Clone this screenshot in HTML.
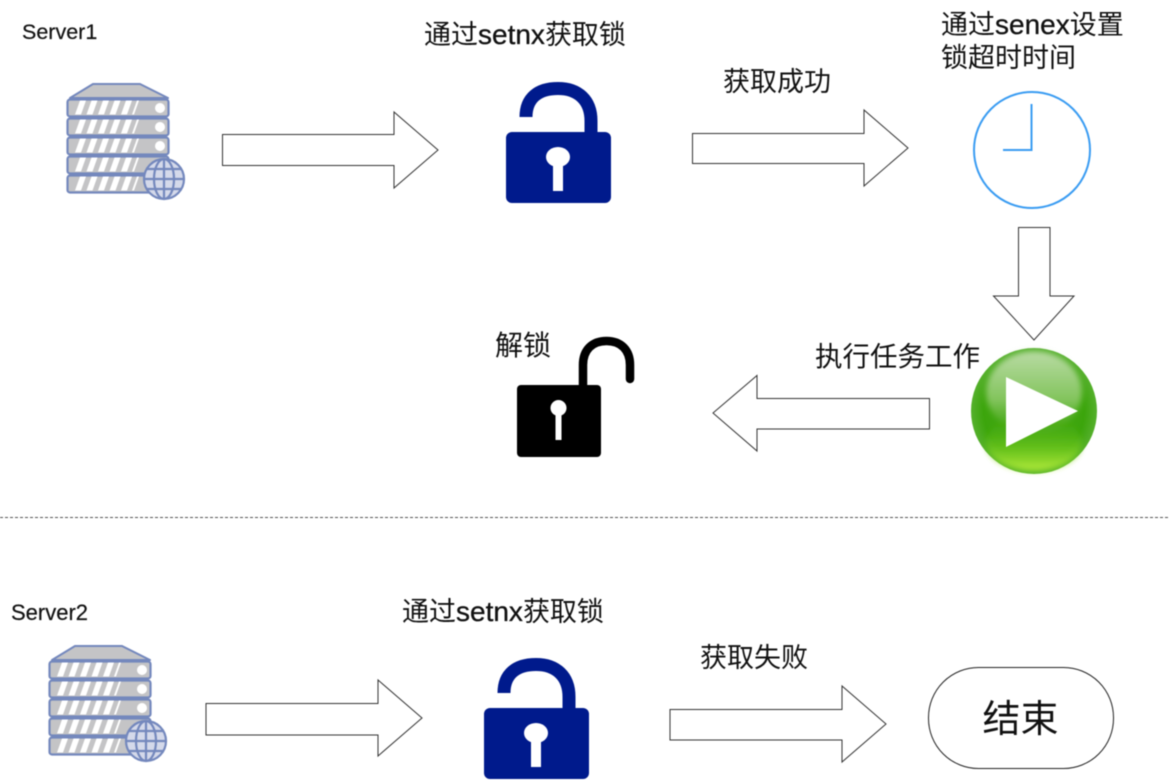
<!DOCTYPE html>
<html>
<head>
<meta charset="utf-8">
<style>
html,body{margin:0;padding:0;background:#fff}
svg{display:block;filter:blur(.4px)}
text{font-family:"Liberation Sans","Noto Sans CJK SC",sans-serif;fill:#111}
.l{font-size:27px}
.m{font-size:27.500px}
.s{font-size:21.500px;stroke:#111;stroke-width:.2}
.t{font-size:28px;stroke:#111;stroke-width:.3}
.a{fill:#fff;stroke:#333;stroke-width:1}
</style>
</head>
<body>
<svg width="1170" height="784" viewBox="0 0 1170 784" xmlns="http://www.w3.org/2000/svg">
<defs>
<g id="srv">
  <path d="M93 84H140L168 98H70Z" fill="#c4c4c6" stroke="#7488bd" stroke-width="2" stroke-linejoin="round"/>
  <g id="row">
    <rect x="67.500" y="99.500" width="101" height="17" rx="2.500" fill="#c4c4c6" stroke="#7488bd" stroke-width="2.200"/>
    <path d="M75 114.500l5-14h6l-5 14zM86.500 114.500l5-14h6l-5 14zM98 114.500l5-14h6l-5 14zM109.500 114.500l5-14h6l-5 14zM121 114.500l5-14h6l-5 14zM132 114.500l5-14h2l-5 14z" fill="#fff"/>
    <circle cx="160" cy="108" r="5" fill="#fff"/>
  </g>
  <use href="#row" y="19"/>
  <use href="#row" y="38"/>
  <use href="#row" y="57"/>
  <use href="#row" y="76"/>
  <g fill="#d4d9ea" stroke="#7488bd" stroke-width="2.200">
    <circle cx="164" cy="179" r="20"/>
    <ellipse cx="164" cy="179" rx="10" ry="20" fill="none"/>
    <path d="M164 159V199M144 179H184M147 169H181M147 189H181" fill="none"/>
  </g>
</g>
<g id="lk">
  <path d="M526 117C526 98 538 88.500 558 88.500C578 88.500 591 100 591 121V140" fill="none" stroke="#001a8c" stroke-width="13"/>
  <rect x="506" y="132" width="105" height="71" rx="6" fill="#001a8c"/>
  <ellipse cx="558" cy="157" rx="12" ry="10" fill="#fff"/>
  <path d="M553 160H563V191H553Z" fill="#fff"/>
</g>
<radialGradient id="g" cx="50%" cy="50%" r="50%">
  <stop offset="0" stop-color="#4cab1c"/>
  <stop offset=".8" stop-color="#3ca50c"/>
  <stop offset="1" stop-color="#55b02c"/>
</radialGradient>
<linearGradient id="gh" x1="0" y1="0" x2="0" y2="1">
  <stop offset="0" stop-color="#b9dba4"/>
  <stop offset=".6" stop-color="#82c45c"/>
  <stop offset="1" stop-color="#4dab1e" stop-opacity=".3"/>
</linearGradient>
<linearGradient id="gb" x1="0" y1="0" x2="0" y2="1">
  <stop offset="0" stop-color="#3ea50f" stop-opacity="0"/>
  <stop offset=".6" stop-color="#70c81e" stop-opacity=".8"/>
  <stop offset="1" stop-color="#b4ec3c"/>
</linearGradient>
<filter id="bl" x="-20%" y="-20%" width="140%" height="140%"><feGaussianBlur stdDeviation="3"/></filter>
</defs>

<text class="s" x="22" y="39">Server1</text>
<use href="#srv"/>
<text class="l" x="424" y="44">通过<tspan class="t">setnx</tspan>获取锁</text>
<use href="#lk"/>
<polygon class="a" points="222.500,134.500 394,134.500 394,112 438,150 394,188 394,165.500 222.500,165.500"/>

<text class="l" x="723" y="91">获取成功</text>
<polygon class="a" points="692.500,133.500 864,133.500 864,110 908,148 864,186 864,163.500 692.500,163.500"/>

<text class="l" x="941" y="34">通过<tspan class="t">senex</tspan>设置</text>
<text class="l" x="941" y="67">锁超时时间</text>
<circle cx="1032" cy="150" r="58" fill="#fff" stroke="#3a9cf2" stroke-width="2"/>
<path d="M1031.500 104V150H1003" fill="none" stroke="#3a9cf2" stroke-width="2"/>

<polygon class="a" points="1018.500,227.500 1050,227.500 1050,296 1074,296 1034,340 993.500,296 1018.500,296"/>

<circle cx="1034" cy="411" r="63" fill="url(#g)"/>
<ellipse cx="1034" cy="392" rx="48" ry="41" fill="url(#gh)" filter="url(#bl)"/>
<ellipse cx="1034" cy="443" rx="48" ry="28" fill="url(#gb)" filter="url(#bl)"/>
<polygon points="1006,377 1078,411 1006,447" fill="#fff"/>

<text class="m" x="815" y="366">执行任务工作</text>
<polygon class="a" points="929.500,398.500 757,398.500 757,375.500 713,413 757,451 757,429 929.500,429"/>

<text class="t" style="stroke:none" x="495" y="355">解锁</text>
<path d="M583 390V365C583 350 592 341 606.500 341C621 341 630 350 630 365V379" fill="none" stroke="#000" stroke-width="8.500" stroke-linecap="round"/>
<rect x="517" y="385" width="84" height="72" rx="4" fill="#000"/>
<circle cx="558.500" cy="408" r="8" fill="#fff"/>
<rect x="555.500" y="410" width="6" height="30" fill="#fff"/>

<line x1="0" y1="517.500" x2="1170" y2="517.500" stroke="#555" stroke-width="1" stroke-dasharray="3 2"/>

<text class="s" x="11" y="620" style="font-size:22px">Server2</text>
<use href="#srv" x="-18" y="562"/>
<text class="l" x="402" y="621">通过<tspan class="t">setnx</tspan>获取锁</text>
<use href="#lk" x="-22" y="576"/>
<polygon class="a" points="206,703.500 378,703.500 378,680 422,718 378,756 378,735 206,735"/>

<text class="l" x="700" y="667">获取失败</text>
<polygon class="a" points="670,709.500 842,709.500 842,686 886,724 842,762 842,740 670,740"/>

<rect x="928.500" y="667.500" width="185" height="101" rx="50" fill="#fff" stroke="#222" stroke-width="1"/>
<text x="1020.500" y="732" font-size="38" text-anchor="middle">结束</text>
</svg>
</body>
</html>
